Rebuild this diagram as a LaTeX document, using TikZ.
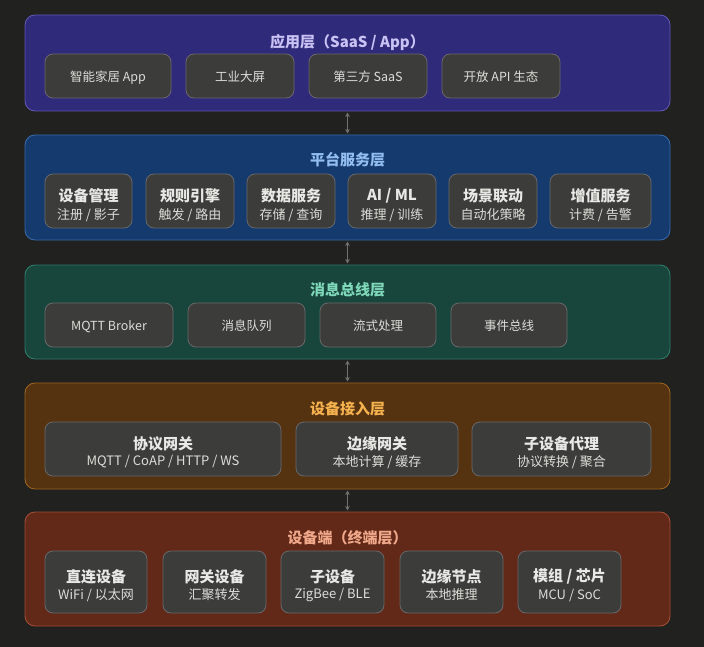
\documentclass[tikz,border=0pt]{standalone}
\usepackage{fontspec}
\setmainfont{Noto Sans CJK SC}
\usetikzlibrary{arrows.meta}
\definecolor{bg}{HTML}{21211F}
\definecolor{fillA}{HTML}{302A7A}\definecolor{lineA}{HTML}{5E55B0}\definecolor{titleA}{HTML}{C8C2F5}
\definecolor{fillB}{HTML}{153A6E}\definecolor{lineB}{HTML}{3768AA}\definecolor{titleB}{HTML}{92BEF2}
\definecolor{fillC}{HTML}{18463C}\definecolor{lineC}{HTML}{2E7A66}\definecolor{titleC}{HTML}{80D8BA}
\definecolor{fillD}{HTML}{553210}\definecolor{lineD}{HTML}{9A6420}\definecolor{titleD}{HTML}{F5B24E}
\definecolor{fillE}{HTML}{622818}\definecolor{lineE}{HTML}{A04E36}\definecolor{titleE}{HTML}{F0A88A}
\definecolor{boxfill}{HTML}{3C3C3A}\definecolor{boxline}{HTML}{68686A}
\definecolor{boxtext}{HTML}{DDDDD8}\definecolor{boxhead}{HTML}{E8E8E4}
\definecolor{arrowc}{HTML}{727270}
\tikzset{
  layer/.style={rounded corners=10pt, line width=0.9pt, inner sep=0pt, outer sep=0pt},
  ltitle/.style={font=\fontsize{15}{17}\selectfont\bfseries, inner sep=0pt},
  box/.style={rounded corners=8pt, fill=boxfill, draw=boxline, line width=0.8pt,
    inner sep=0pt, outer sep=0pt, text=boxtext, font=\fontsize{12.5}{14}\selectfont,
    text height=11.5pt, text depth=0pt},
  bhead/.style={font=\fontsize{15}{17}\selectfont\bfseries, text=boxhead, inner sep=0pt},
  bsub/.style={font=\fontsize{13}{15}\selectfont, text=boxtext, inner sep=0pt},
  link/.style={draw=arrowc, line width=0.9pt, shorten >=1.5pt, shorten <=1.5pt,
    {Stealth[length=4.5pt,width=4.5pt]}-{Stealth[length=4.5pt,width=4.5pt]}}
}
\begin{document}
\begin{tikzpicture}[x=1pt,y=-1pt]
\fill[bg] (0,0) rectangle (704,647);
\useasboundingbox (0,0) rectangle (704,647);

% Layer 1
\node[layer, fill=fillA, draw=lineA, minimum width=645pt, minimum height=96pt] (L1) at (347.5,63) {};
\node[ltitle, text=titleA] (T1) at (347.5,42.5) {应用层（SaaS / App）};
\node[box, minimum width=126pt, minimum height=44pt] (a1) at (108,76) {智能家居 App};
\node[box, minimum width=108pt, minimum height=44pt] (a2) at (240,76) {工业大屏};
\node[box, minimum width=118pt, minimum height=44pt] (a3) at (368,76) {第三方 SaaS};
\node[box, minimum width=118pt, minimum height=44pt] (a4) at (501,76) {开放 API 生态};

% Layer 2
\node[layer, fill=fillB, draw=lineB, minimum width=645pt, minimum height=105pt] (L2) at (347.5,187.5) {};
\node[ltitle, text=titleB] (T2) at (347.5,159.5) {平台服务层};
\node[box, minimum width=87pt, minimum height=54pt] (b1) at (88.5,201) {};
\node[bhead] at (88.5,196) {设备管理};
\node[bsub] at (88.5,215) {注册 / 影子};
\node[box, minimum width=88pt, minimum height=54pt] (b2) at (190,201) {};
\node[bhead] at (190,196) {规则引擎};
\node[bsub] at (190,215) {触发 / 路由};
\node[box, minimum width=88pt, minimum height=54pt] (b3) at (291,201) {};
\node[bhead] at (291,196) {数据服务};
\node[bsub] at (291,215) {存储 / 查询};
\node[box, minimum width=88pt, minimum height=54pt] (b4) at (392,201) {};
\node[bhead] at (392,196) {AI / ML};
\node[bsub] at (392,215) {推理 / 训练};
\node[box, minimum width=88pt, minimum height=54pt] (b5) at (493,201) {};
\node[bhead] at (493,196) {场景联动};
\node[bsub] at (493,215) {自动化策略};
\node[box, minimum width=101pt, minimum height=54pt] (b6) at (600.5,201) {};
\node[bhead] at (600.5,196) {增值服务};
\node[bsub] at (600.5,215) {计费 / 告警};

% Layer 3
\node[layer, fill=fillC, draw=lineC, minimum width=645pt, minimum height=94pt] (L3) at (347.5,312) {};
\node[ltitle, text=titleC] (T3) at (347.5,289.5) {消息总线层};
\node[box, minimum width=128pt, minimum height=44pt] (c1) at (109,325) {MQTT Broker};
\node[box, minimum width=117pt, minimum height=44pt] (c2) at (246.5,325) {消息队列};
\node[box, minimum width=116pt, minimum height=44pt] (c3) at (378,325) {流式处理};
\node[box, minimum width=116pt, minimum height=44pt] (c4) at (509,325) {事件总线};

% Layer 4
\node[layer, fill=fillD, draw=lineD, minimum width=645pt, minimum height=106pt] (L4) at (347.5,436) {};
\node[ltitle, text=titleD] (T4) at (347.5,408.5) {设备接入层};
\node[box, minimum width=236pt, minimum height=54pt] (d1) at (163,449) {};
\node[bhead] at (163,443.5) {协议网关};
\node[bsub] at (163,462) {MQTT / CoAP / HTTP / WS};
\node[box, minimum width=162pt, minimum height=54pt] (d2) at (377,449) {};
\node[bhead] at (377,443.5) {边缘网关};
\node[bsub] at (377,462) {本地计算 / 缓存};
\node[box, minimum width=179pt, minimum height=54pt] (d3) at (561.5,449) {};
\node[bhead] at (561.5,443.5) {子设备代理};
\node[bsub] at (561.5,462) {协议转换 / 聚合};

% Layer 5
\node[layer, fill=fillE, draw=lineE, minimum width=645pt, minimum height=114pt] (L5) at (347.5,569) {};
\node[ltitle, text=titleE] (T5) at (347.5,537.5) {设备端（终端层）};
\node[box, minimum width=102pt, minimum height=62pt] (e1) at (96,582) {};
\node[bhead] at (96,576.5) {直连设备};
\node[bsub] at (96,595) {WiFi / 以太网};
\node[box, minimum width=103pt, minimum height=62pt] (e2) at (214.5,582) {};
\node[bhead] at (214.5,576.5) {网关设备};
\node[bsub] at (214.5,595) {汇聚转发};
\node[box, minimum width=103pt, minimum height=62pt] (e3) at (332.5,582) {};
\node[bhead] at (332.5,576.5) {子设备};
\node[bsub] at (332.5,595) {ZigBee / BLE};
\node[box, minimum width=103pt, minimum height=62pt] (e4) at (451.5,582) {};
\node[bhead] at (451.5,576.5) {边缘节点};
\node[bsub] at (451.5,595) {本地推理};
\node[box, minimum width=103pt, minimum height=62pt] (e5) at (569.5,582) {};
\node[bhead] at (569.5,576.5) {模组 / 芯片};
\node[bsub] at (569.5,595) {MCU / SoC};

% connectors
\draw[link] (L1.south) -- (L2.north);
\draw[link] (L2.south) -- (L3.north);
\draw[link] (L3.south) -- (L4.north);
\draw[link] (L4.south) -- (L5.north);
\end{tikzpicture}
\end{document}
